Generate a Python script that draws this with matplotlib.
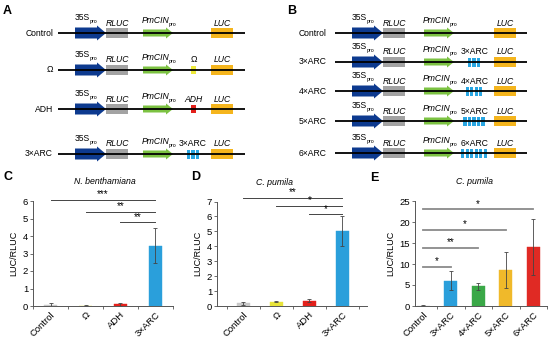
import matplotlib.pyplot as plt
from matplotlib.patches import Polygon, Rectangle

plt.rcParams['font.family'] = ['Liberation Sans', 'DejaVu Sans']

# --- data ---
c_labels = ['Control', 'Ω', 'ADH', '3×ARC']
c_values = [0.05, 0.02, 0.1, 3.45]
c_errors = [0.1, 0.02, 0.1, 1.0]
c_sig = [(0, 3, 6.06, '***'), (1, 3, 5.37, '**'), (2, 3, 4.78, '**')]

d_labels = ['Control', 'Ω', 'ADH', '3×ARC']
d_values = [0.2, 0.3, 0.35, 5.0]
d_errors = [0.1, 0.06, 0.1, 1.0]
d_sig = [(0, 3, 7.25, '**'), (1, 3, 6.7, '*'), (2, 3, 6.15, '*')]

e_labels = ['Control', '3×ARC', '4×ARC', '5×ARC', '6×ARC']
e_values = [0.1, 6.0, 4.7, 8.6, 14.0]
e_errors = [0.05, 2.3, 0.8, 4.2, 6.7]
e_sig = [(0, 1, 9.4, '*'), (0, 2, 13.8, '**'), (0, 3, 18.1, '*'), (0, 4, 23.0, '*')]

a_rows = ['Control', 'Ω', 'ADH', '3×ARC']
b_rows = ['Control', '3×ARC', '4×ARC', '5×ARC', '6×ARC']
b_arc_counts = [0, 3, 4, 5, 6]

col_35s = '#0d3a8f'
col_rluc = '#a3a3a3'
col_pmcin = '#7cc242'
col_luc = '#f5b51d'
col_arc = '#29a6e2'
col_omega = '#eeea3a'
col_adh = '#e3201b'

FS = 6.2

fig = plt.figure(figsize=(5.5, 3.37), dpi=100)

# schematic canvas in pixel coords
sk = fig.add_axes([0, 0, 1, 1])
sk.set_xlim(0, 550)
sk.set_ylim(337, 0)
sk.axis('off')


def arrow(x0, x1, y, head, hb, hh, color):
    xs = x1 - head
    pts = [(x0, y - hb), (xs, y - hb), (xs, y - hh), (x1, y),
           (xs, y + hh), (xs, y + hb), (x0, y + hb)]
    sk.add_patch(Polygon(pts, closed=True, color=color, lw=0))


def box(x0, x1, y, h, color):
    sk.add_patch(Rectangle((x0, y - h), x1 - x0, 2 * h, color=color, lw=0))


def arcs(cx, y, n):
    pitch = 4.5
    w = 3.2
    start = cx - (pitch * (n - 1) + w) / 2
    for i in range(n):
        box(start + i * pitch, start + i * pitch + w, y, 4.5, col_arc)


def with_pro(x, y, s, italic):
    t = sk.text(x, y, s, fontsize=FS, style='italic' if italic else 'normal',
                va='baseline')
    sk.annotate('pro', xy=(0.96, 0.08), xycoords=t, fontsize=3.8,
                va='center', ha='left')


def construct(y, x0, x1, p35, rl, pm, lu):
    sk.plot([x0, x1], [y, y], color='black', lw=1.3, solid_capstyle='butt')
    arrow(p35, p35 + 31, y, 9, 5.5, 7.5, col_35s)
    box(rl, rl + 22, y, 5, col_rluc)
    arrow(pm, pm + 30, y, 7, 3.5, 5.5, col_pmcin)
    box(lu, lu + 22, y, 5, col_luc)
    with_pro(p35, y - 13, '35S', False)
    sk.text(rl + 11, y - 7.5, 'RLUC', fontsize=FS, style='italic',
            ha='center', va='baseline')
    with_pro(pm - 1, y - 10, 'PmCIN', True)
    sk.text(lu + 11, y - 7.5, 'LUC', fontsize=FS, style='italic',
            ha='center', va='baseline')


# panel A
a_y = [33, 70, 109, 154]
for name, y in zip(a_rows, a_y):
    construct(y, 58, 245, 75, 106, 143, 211)
    sk.text(53, y, name, fontsize=FS, ha='right', va='center')
    if name == 'Ω':
        box(191, 196, y, 4, col_omega)
        sk.text(193.5, y - 7.5, 'Ω', fontsize=FS, ha='center', va='baseline')
    elif name == 'ADH':
        box(191, 196, y, 4, col_adh)
        sk.text(193.5, y - 7.5, 'ADH', fontsize=FS, style='italic',
                ha='center', va='baseline')
    elif name == '3×ARC':
        arcs(193, y, 3)
        sk.text(193, y - 7.5, '3×ARC', fontsize=FS, ha='center',
                va='baseline')

# panel B
b_y = [33, 62, 91, 121, 153]
for name, n, y in zip(b_rows, b_arc_counts, b_y):
    construct(y, 335, 527, 352, 383, 424, 494)
    sk.text(299, y, name, fontsize=FS, ha='left', va='center')
    if n:
        arcs(474, y, n)
        sk.text(475, y - 7.5, name, fontsize=FS, ha='center', va='baseline')

for letter, x, y in [('A', 3, 11), ('B', 287, 11), ('C', 3, 177),
                     ('D', 191, 177), ('E', 370, 178)]:
    sk.text(x, y, letter, fontsize=9, fontweight='bold', va='center')


def bar_panel(rect, labels, values, errors, colors, ymax, ystep, xlim,
              width, sig, title, tx, sig_style):
    l, t, r, b = rect
    ax = fig.add_axes([l / 550, 1 - b / 337, (r - l) / 550, (b - t) / 337])
    xs = list(range(len(labels)))
    ax.bar(xs, values, width=width, color=colors, edgecolor=colors, lw=0.3)
    ax.errorbar(xs, values, yerr=errors, fmt='none', ecolor='#444444',
                elinewidth=0.6, capsize=1.5, capthick=0.6)
    ax.set_xlim(*xlim)
    ax.set_ylim(0, ymax)
    ax.set_yticks(range(0, ymax + 1, ystep))
    ax.set_xticks(xs)
    ax.set_xticklabels(labels, rotation=45, ha='right',
                       rotation_mode='anchor')
    ax.set_xticks([k + 0.5 for k in range(-1, len(labels))
                   if xlim[0] <= k + 0.5 <= xlim[1]], minor=True)
    ax.tick_params(axis='x', which='major', length=0, labelsize=6.8, pad=3)
    ax.tick_params(axis='x', which='minor', length=2, width=0.6,
                   color='#555555')
    ax.tick_params(axis='y', length=2, width=0.6, labelsize=6.8, pad=1.5,
                   color='#555555')
    for s in ['top', 'right']:
        ax.spines[s].set_visible(False)
    for s in ['left', 'bottom']:
        ax.spines[s].set_color('#555555')
        ax.spines[s].set_linewidth(0.7)
    ax.set_ylabel('LUC/RLUC', fontsize=6.5, labelpad=3)
    lc, lw = sig_style
    for i, j, h, stars in sig:
        ax.plot([i, j], [h, h], color=lc, lw=lw, clip_on=False)
        ax.text((i + j) / 2, h + ymax * 0.005, stars, fontsize=7,
                ha='center', va='bottom')
    sk.text(tx, t - 19, title, fontsize=6.3, style='italic',
            ha='center', va='center')
    return ax


bar_panel((33, 201, 173, 306), c_labels, c_values, c_errors,
          ['#c9c9c9', '#e8e43a', '#e3201b', '#2a9fdb'], 6, 1, (-0.5, 3.5),
          0.35, c_sig, 'N. benthamiana', 105, ('#444444', 0.7))
bar_panel((217, 201.5, 367, 306), d_labels, d_values, d_errors,
          ['#c9c9c9', '#e8e43a', '#e3201b', '#2a9fdb'], 7, 1, (-0.8, 3.75),
          0.4, d_sig, 'C. pumila', 275, ('#444444', 0.7))
bar_panel((415, 201, 547, 306), e_labels, e_values, e_errors,
          ['#c9c9c9', '#2a9fdb', '#3aa847', '#f0b92a', '#e02a24'], 25, 5,
          (-0.3, 4.5), 0.46, e_sig, 'C. pumila', 475, ('#8a8a8a', 1.3))

fig.savefig('out.png', dpi=100)
